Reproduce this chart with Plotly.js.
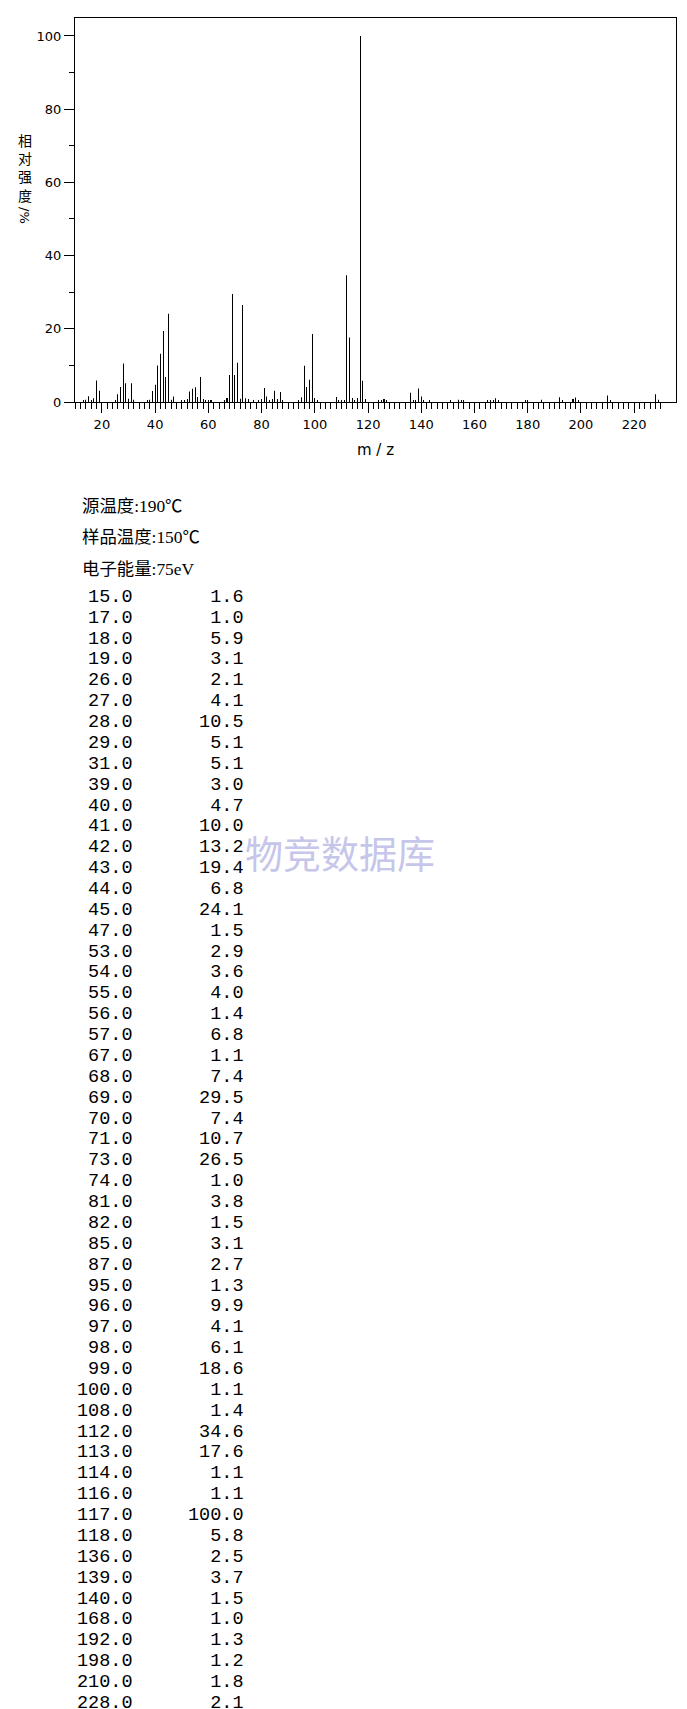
<!DOCTYPE html>
<html><head><meta charset="utf-8">
<script src="https://cdn.plot.ly/plotly-3.0.1.min.js"></script>
<style>
html,body{margin:0;padding:0;background:#fff;}
body{position:relative;width:687px;height:1709px;overflow:hidden;}
#chart{position:absolute;left:0;top:0;width:687px;height:470px;}
.hdr{position:absolute;left:82px;font-family:"Liberation Serif","Noto Sans CJK SC",serif;font-size:17.4px;line-height:18px;white-space:nowrap;color:#000;}
.row{position:absolute;left:0;width:300px;height:20.87px;font-family:"Liberation Mono",monospace;font-size:18.5px;line-height:20.87px;white-space:pre;color:#000;}
.c1{position:absolute;left:0;top:0;width:132.5px;text-align:right;}
.c2{position:absolute;left:132.5px;top:0;width:111px;text-align:right;}
#wm{position:absolute;left:245px;top:833px;font-family:"Noto Sans CJK SC";font-size:38px;line-height:38px;color:#c6c6ea;white-space:nowrap;}
</style></head>
<body>
<div id="chart"></div>
<div id="info"></div>
<div id="wm">物竞数据库</div>
<script>
// Listed peaks (m/z, relative intensity %)
const mz = [15,17,18,19,26,27,28,29,31,39,40,41,42,43,44,45,47,53,54,55,56,57,67,68,69,70,71,73,74,81,82,85,87,95,96,97,98,99,100,108,112,113,114,116,117,118,136,139,140,168,192,198,210,228];
const intensity = [1.6,1.0,5.9,3.1,2.1,4.1,10.5,5.1,5.1,3.0,4.7,10.0,13.2,19.4,6.8,24.1,1.5,2.9,3.6,4.0,1.4,6.8,1.1,7.4,29.5,7.4,10.7,26.5,1.0,3.8,1.5,3.1,2.7,1.3,9.9,4.1,6.1,18.6,1.1,1.4,34.6,17.6,1.1,1.1,100.0,5.8,2.5,3.7,1.5,1.0,1.3,1.2,1.8,2.1];
// Small unlisted peaks (estimates)
const minorMz = [13,14,16,25,30,32,37,38,46,50,51,52,58,59,60,61,66,72,75,77,79,80,83,84,86,88,94,101,109,110,111,115,119,124,125,126,127,137,138,141,143,151,154,155,156,165,166,167,169,179,180,185,193,197,199,211,229];
const minorIntensity = [0.35,0.6,0.45,0.35,0.9,0.6,0.35,0.6,0.6,0.35,0.35,0.8,0.8,0.45,0.45,0.45,0.35,0.9,0.8,0.45,0.45,0.8,0.45,0.8,0.8,0.45,0.4,0.45,0.35,0.35,0.35,0.45,0.8,0.45,0.45,0.8,0.45,0.35,0.35,0.35,0.35,0.35,0.6,0.35,0.35,0.35,0.35,0.35,0.35,0.35,0.35,0.6,0.35,0.8,0.35,0.35,0.6];
const headerLines = ["源温度:190℃","样品温度:150℃","电子能量:75eV"];
const yTitleChars = ["相","对","强","度"];
const yTitleTail = "/%";
const xTitle = "m / z";
const watermark = "物竞数据库";

// header & table text
const info = document.getElementById('info');
const hdrTops = [497, 527.5, 559.5];
headerLines.forEach((t,i)=>{
  const d = document.createElement('div');
  d.className='hdr'; d.style.top = hdrTops[i]+'px'; d.textContent = t;
  info.appendChild(d);
});
mz.forEach((m,i)=>{
  const r = document.createElement('div');
  r.className='row'; r.style.top = (587.8 + i*20.87)+'px';
  const a = document.createElement('span'); a.className='c1'; a.textContent = m.toFixed(1);
  const b = document.createElement('span'); b.className='c2'; b.textContent = intensity[i].toFixed(1);
  r.appendChild(a); r.appendChild(b); info.appendChild(r);
});
document.getElementById('wm').textContent = watermark;

const minorTicks = [];
for (let v = 10; v <= 230; v += 2) if (v % 20 !== 0) minorTicks.push(v);

const trace = {
  type:'bar',
  x: mz.concat(minorMz),
  y: intensity.concat(minorIntensity),
  width: 0.02,
  marker:{color:'#000', line:{width:0}},
  hoverinfo:'skip'
};

const annotations = [
  {xref:'paper',yref:'paper',x:0,y:1,xanchor:'center',yanchor:'middle',
   xshift:-50, yshift:-(167.5-18), text:yTitleChars.join('<br>'), showarrow:false, borderpad:0,
   font:{family:'Noto Sans CJK SC',size:14,color:'#000'}},
  {xref:'paper',yref:'paper',x:0,y:1,xanchor:'center',yanchor:'middle',
   xshift:-50, yshift:-(215-18), text:yTitleTail, textangle:90, showarrow:false, borderpad:0,
   font:{family:'DejaVu Sans',size:13,color:'#000'}}
];

const axisCommon = {
  ticks:'outside', ticklen:10, tickwidth:1, tickcolor:'#000',
  showline:true, linecolor:'#000', linewidth:1, mirror:true,
  showgrid:false, zeroline:false, fixedrange:true,
  tickfont:{family:'DejaVu Sans',size:13,color:'#000'}
};
const layout = {
  width:687, height:470,
  margin:{l:75,r:11,t:18,b:68,pad:0},
  paper_bgcolor:'#fff', plot_bgcolor:'#fff',
  showlegend:false,
  font:{family:'DejaVu Sans',size:13,color:'#000'},
  xaxis: Object.assign({}, axisCommon, {
    range:[9.9,235.7], tickmode:'linear', tick0:0, dtick:20,
    minor:{tickmode:'array', tickvals:minorTicks, ticks:'outside', ticklen:6, tickwidth:1, tickcolor:'#000', showgrid:false},
    title:{text:xTitle, font:{family:'DejaVu Sans',size:15,color:'#000'}, standoff:13}
  }),
  yaxis: Object.assign({}, axisCommon, {
    range:[0,104.9], tickmode:'linear', tick0:0, dtick:20,
    minor:{dtick:10, ticks:'outside', ticklen:5, tickwidth:1, tickcolor:'#000', showgrid:false}
  }),
  annotations: annotations
};
Plotly.newPlot('chart',[trace],layout,{displayModeBar:false,responsive:false});
</script>
</body></html>
